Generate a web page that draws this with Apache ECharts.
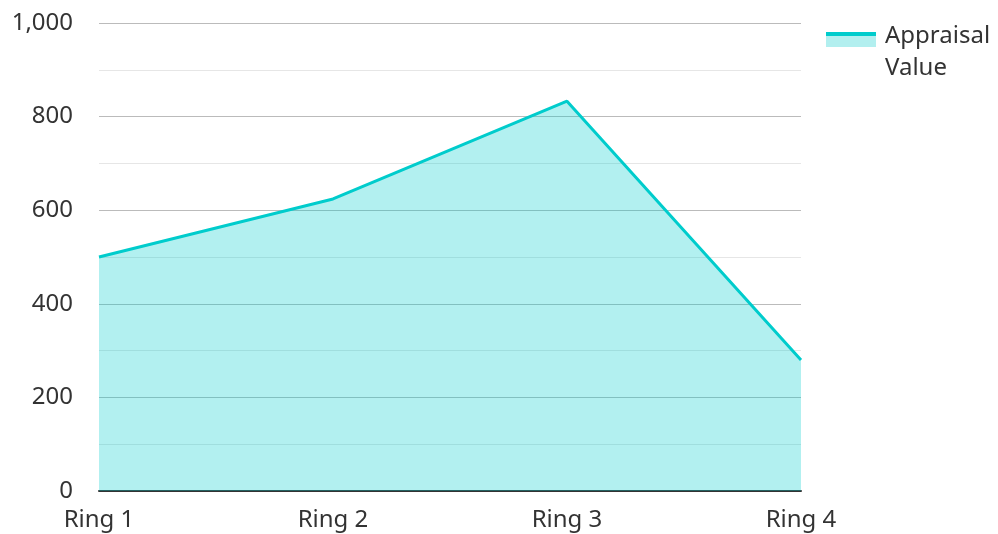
<!DOCTYPE html>
<html>
<head>
<meta charset="utf-8">
<script src="https://cdn.jsdelivr.net/npm/echarts@6/dist/echarts.min.js"></script>
<style>
html, body { margin: 0; padding: 0; background: #fff; }
#main { width: 998px; height: 534px; }
</style>
</head>
<body>
<div id="main"></div>
<script>
// chart data
var categories = ['Ring 1', 'Ring 2', 'Ring 3', 'Ring 4'];
var appraisalValues = [500, 624, 833, 280];
var seriesName = 'Appraisal Value';

var lineColor = '#00cccc';
var fillColor = 'rgba(0,204,204,0.3)';

// legend icon: line on top of a filled band, placed in the upper part of a tall box
var iconSvg = '<svg xmlns="http://www.w3.org/2000/svg" width="54" height="64">' +
    '<rect x="0" y="16" width="50" height="11" fill="#b2efef"/>' +
    '<rect x="0" y="12" width="50" height="4" fill="#00cccc"/></svg>';

var myChart = echarts.init(document.getElementById('main'));

var option = {
    animation: false,
    textStyle: { fontFamily: 'Noto Sans' },
    grid: { left: 99, right: 197, top: 23, bottom: 43 },
    legend: {
        left: 826,
        top: 20,
        padding: 0,
        itemWidth: 54,
        itemHeight: 64,
        itemGap: 10,
        icon: 'image://data:image/svg+xml;charset=utf-8,' + encodeURIComponent(iconSvg),
        formatter: function() { return 'Appraisal\nValue'; },
        textStyle: { fontSize: 24, color: '#333', lineHeight: 32 },
        data: [seriesName]
    },
    xAxis: {
        type: 'category',
        data: categories,
        boundaryGap: false,
        axisLine: { lineStyle: { color: '#333', width: 2 } },
        axisTick: { show: false },
        axisLabel: { fontSize: 24, color: '#333', margin: 17 }
    },
    yAxis: {
        type: 'value',
        min: 0,
        max: 1000,
        interval: 200,
        axisLine: { show: false },
        axisTick: { show: false },
        axisLabel: {
            fontSize: 24, color: '#333', margin: 26,
            formatter: function(v) { return v.toLocaleString('en-US'); }
        },
        splitLine: { lineStyle: { color: '#bbbbbb', width: 1 } },
        minorTick: { show: false, splitNumber: 2 },
        minorSplitLine: { show: true, lineStyle: { color: '#e6e6e6', width: 1 } }
    },
    series: [{
        name: seriesName,
        type: 'line',
        data: appraisalValues,
        symbol: 'none',
        lineStyle: { color: lineColor, width: 3 },
        itemStyle: { color: lineColor },
        areaStyle: { color: fillColor, opacity: 1 }
    }]
};

myChart.setOption(option);
</script>
</body>
</html>
